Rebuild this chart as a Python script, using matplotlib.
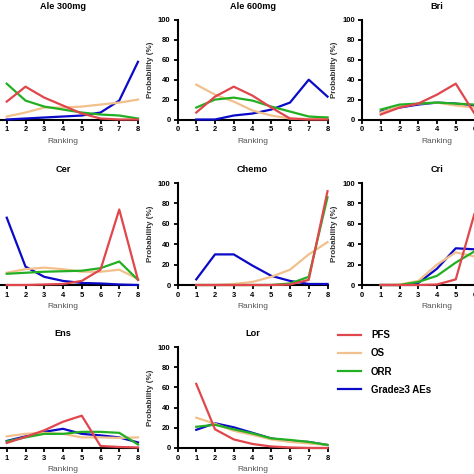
import matplotlib.pyplot as plt
from matplotlib.lines import Line2D

plt.rcParams['font.family'] = ['Liberation Sans', 'DejaVu Sans']

### data ##########
ranks = [1, 2, 3, 4, 5, 6, 7, 8]
names = ['Ale 300mg', 'Ale 600mg', 'Bri', 'Cer', 'Chemo', 'Cri', 'Ens', 'Lor']
series = ['PFS', 'OS', 'ORR', 'Grade\u22653 AEs']
colors = {'PFS': '#e0464c', 'OS': '#f2c08c', 'ORR': '#22b022', 'Grade\u22653 AEs': '#0a0ac8'}

pfs = {
    'Ale 300mg': [18, 33, 22, 14, 6, 1, 0, 0],
    'Ale 600mg': [7, 23, 33, 24, 12, 1, 0, 0],
    'Bri':       [5, 12, 16, 25, 36, 6, 0, 0],
    'Cer':       [0, 0, 0.5, 1, 4, 15, 74, 5],
    'Chemo':     [0, 0, 0, 0, 0, 0.5, 5, 92],
    'Cri':       [0, 0, 0, 0.5, 5.5, 70, 19, 5],
    'Ens':       [5, 11, 17.5, 26, 32, 2, 1, 0.5],
    'Lor':       [63.5, 18.5, 8.5, 4, 1.5, 0.5, 0, 0],
}
os_ = {
    'Ale 300mg': [3, 7, 12, 12, 13, 15, 17, 20],
    'Ale 600mg': [35, 25, 18, 9, 4, 1, 0.5, 2],
    'Bri':       [7, 13, 16, 17, 14, 12, 11, 10],
    'Cer':       [12, 15.5, 17, 15.5, 13, 13, 15, 6],
    'Chemo':     [0, 0, 1, 3, 8, 15, 30, 42],
    'Cri':       [0, 0.5, 4, 20, 32, 28, 10, 5],
    'Ens':       [11.5, 14, 15, 14, 10.5, 10.5, 10, 10.5],
    'Lor':       [30, 24, 17, 13, 8.5, 6, 4.5, 3],
}
orr = {
    'Ale 300mg': [36, 19, 13, 10, 7, 5, 4, 1],
    'Ale 600mg': [12, 20, 22, 19, 13, 8, 3, 2],
    'Bri':       [10, 15, 16, 17, 16, 15, 6, 5],
    'Cer':       [11, 12, 13, 13.5, 14, 16.5, 23, 5],
    'Chemo':     [0, 0, 0, 0, 0, 1.5, 8, 86],
    'Cri':       [0, 0, 3, 9, 22, 33, 20, 13],
    'Ens':       [6.5, 10.5, 14, 14, 16, 16, 15, 3.5],
    'Lor':       [21, 23, 18.5, 14.5, 9.5, 8, 6, 3],
}
ae = {
    'Ale 300mg': [0, 1, 2, 3, 4, 7, 19, 58],
    'Ale 600mg': [0, 0, 4, 6, 10, 17, 40, 23],
    'Bri':       [8, 12, 15, 17, 16, 14, 10, 8],
    'Cer':       [66, 18, 8, 4, 2, 1.5, 0.5, 0],
    'Chemo':     [5.5, 30, 30, 19, 9, 4, 1, 1],
    'Cri':       [0, 0, 2, 16, 36, 35, 7, 4],
    'Ens':       [7, 11.5, 16, 19, 14, 12.5, 10.5, 5.5],
    'Lor':       [18, 24.5, 20.5, 15, 9.5, 7, 6, 3],
}
####################

data = {'PFS': pfs, 'OS': os_, 'ORR': orr, 'Grade\u22653 AEs': ae}
draw_order = ['Grade\u22653 AEs', 'OS', 'ORR', 'PFS']

# panel geometry in pixels (the source figure is cropped on both sides)
W = H = 474.0
col_left = [-12, 177.5, 362]
row_top = [20, 183, 347]
row_bot = [119.5, 285, 448]
ax_w = 150

fig = plt.figure(figsize=(4.74, 4.74), dpi=100)

for i, name in enumerate(names):
    r, c = divmod(i, 3)
    ax = fig.add_axes([col_left[c] / W, 1 - row_bot[r] / H,
                       ax_w / W, (row_bot[r] - row_top[r]) / H])
    for s in draw_order:
        ax.plot(ranks, data[s][name], color=colors[s], lw=1.6,
                clip_on=False, zorder=3)
    ax.set_xlim(0, 8)
    ax.set_ylim(0, 100)
    ax.set_xticks(range(0, 9))
    ax.set_yticks(range(0, 101, 20))
    for sp in ['top', 'right']:
        ax.spines[sp].set_visible(False)
    for sp in ['left', 'bottom']:
        ax.spines[sp].set_linewidth(1.5)
    ax.tick_params(width=1.3, length=3, pad=2, labelsize=5.5)
    for lab in ax.get_xticklabels() + ax.get_yticklabels():
        lab.set_fontweight('bold')
    ax.set_title(name, fontsize=6.6, fontweight='bold', pad=8)
    ax.set_xlabel('Ranking', fontsize=6, color='#555555', labelpad=3)
    ax.set_ylabel('Probability (%)', fontsize=5.8, fontweight='bold',
                  color='#333333', labelpad=3)
    ax.patch.set_alpha(0)

handles = [Line2D([], [], color=colors[s], lw=1.6) for s in series]
fig.legend(handles, series, loc='upper left',
           bbox_to_anchor=(338 / W, 1 - 330 / H), frameon=False,
           prop={'size': 7, 'weight': 'bold'}, handlelength=2.4,
           handletextpad=1.0, labelspacing=0.85, borderpad=0,
           borderaxespad=0)

fig.savefig('out.png', dpi=100)
